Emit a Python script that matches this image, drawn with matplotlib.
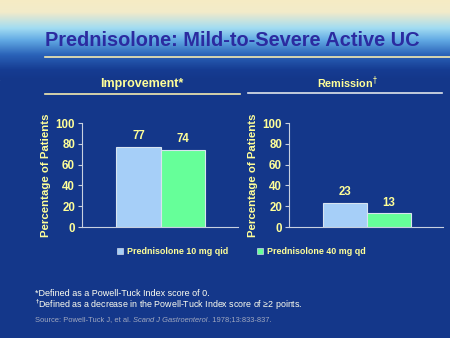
import numpy as np
import matplotlib
matplotlib.use("Agg")
import matplotlib.pyplot as plt
from matplotlib.colors import LinearSegmentedColormap
from matplotlib.patches import Rectangle

# Data
groups = ["Prednisolone 10 mg qid", "Prednisolone 40 mg qd"]
improvement = [77, 74]
remission = [23, 13]
yticks = [0, 20, 40, 60, 80, 100]

W, H = 450, 338
BG = "#14378a"
YEL = "#ffff99"
BLUE = "#a6cff8"
GREEN = "#66ff99"
EDGE = "#d8e4f0"
FONT = "Liberation Sans"

fig = plt.figure(figsize=(W / 100, H / 100), dpi=100)

# Background gradient
bg = fig.add_axes([0, 0, 1, 1])
bg.set_xlim(0, W)
bg.set_ylim(H, 0)
bg.axis("off")
stops = [(0.0, "#f6ecc4"), (12 / 80, "#f2ebca"), (28 / 80, "#a2dcf2"),
         (40 / 80, "#62aae4"), (55 / 80, "#2a62b8"), (70 / 80, "#163c92"),
         (1.0, BG)]
cmap = LinearSegmentedColormap.from_list("sky", stops)
grad = np.linspace(0, 1, 200).reshape(-1, 1)
bg.imshow(grad, cmap=cmap, extent=[0, W, 80, 0], aspect="auto")
bg.add_patch(Rectangle((0, 80), W, H - 80, color=BG, zorder=0))

# Title and rules
bg.text(45, 41, "Prednisolone: Mild-to-Severe Active UC", color="#2b2ba0",
        fontsize=14.4, fontweight="bold", va="center", ha="left", family=FONT)
bg.plot([45, 450], [57, 57], color="#f4eab0", lw=1.2)
bg.text(142, 84, "Improvement*", color=YEL, fontsize=9, fontweight="bold",
        ha="center", va="center", family=FONT)
bg.plot([45, 240], [94, 94], color="#f4eab0", lw=1.2)
bg.text(347, 83, r"Remission$^{\dagger}$", color=YEL, fontsize=7.8,
        fontweight="bold", ha="center", va="center", family=FONT)
bg.plot([248, 442], [93, 93], color="#e0e4ea", lw=1.2)


def panel(left_px, right_px, values):
    x0 = left_px / W
    w = (right_px - left_px) / W
    y0 = 1 - 227 / H
    h = (227 - 123) / H
    ax = fig.add_axes([x0, y0, w, h])
    ax.patch.set_alpha(0)
    ax.bar([0, 1], values, width=1.0, color=[BLUE, GREEN], edgecolor=EDGE,
           linewidth=0.8)
    for i, v in enumerate(values):
        ax.text(i, v + 10.5, f"{v}", color=YEL, fontsize=8.3, fontweight="bold",
                ha="center", va="center", family=FONT)
    ax.set_xlim(-1.27, 2.23)
    ax.set_ylim(0, 100)
    ax.set_yticks(yticks)
    ax.set_yticklabels([str(t) for t in yticks], fontsize=8.3,
                       fontweight="bold", family=FONT)
    ax.set_xticks([])
    ax.tick_params(axis="y", colors="#c8d0e0", length=3, width=0.8, pad=2)
    for lbl in ax.get_yticklabels():
        lbl.set_color(YEL)
    for s in ["top", "right"]:
        ax.spines[s].set_visible(False)
    for s in ["left", "bottom"]:
        ax.spines[s].set_color("#c8d0e0")
        ax.spines[s].set_linewidth(0.8)
    ax.set_ylabel("Percentage of Patients", color=YEL, fontsize=8.2,
                  fontweight="bold", family=FONT, labelpad=3)
    return ax


panel(82, 238, improvement)
panel(289, 443, remission)

# Legend
for xs, col, lbl in [(117, BLUE, groups[0]), (257, GREEN, groups[1])]:
    bg.add_patch(Rectangle((xs, 248), 6, 6, facecolor=col, edgecolor="#d0d8e8",
                           lw=0.5))
    bg.text(xs + 10, 251, lbl, color=YEL, fontsize=6.4, fontweight="bold",
            ha="left", va="center", family=FONT)

# Footnotes
NOTE = "#fffff0"
bg.text(35, 294, "*Defined as a Powell-Tuck Index score of 0.", color=NOTE,
        fontsize=6.5, ha="left", va="center", family=FONT)
bg.text(35, 305, r"$^{\dagger}$Defined as a decrease in the Powell-Tuck Index score of ≥2 points.",
        color=NOTE, fontsize=6.4, ha="left", va="center", family=FONT)
SRC = "#a0a8c0"
src = bg.text(35, 320, "Source: Powell-Tuck J, et al. ", color=SRC,
              fontsize=5.4, ha="left", va="center", family=FONT)
fig.canvas.draw()
r = fig.canvas.get_renderer()
bb = src.get_window_extent(r)
it = bg.text(bb.x1, 320, "Scand J Gastroenterol", color=SRC, fontsize=5.4,
             ha="left", va="center", style="italic", family=FONT)
bb2 = it.get_window_extent(r)
bg.text(bb2.x1, 320, ". 1978;13:833-837.", color=SRC,
        fontsize=5.4, ha="left", va="center", family=FONT)

fig.savefig("out.png", dpi=100)
